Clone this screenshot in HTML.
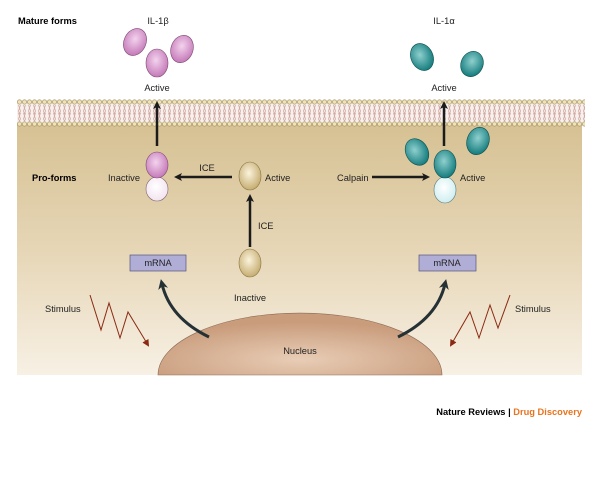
<!DOCTYPE html>
<html><head><meta charset="utf-8"><style>
html,body{margin:0;padding:0;background:#fff}
svg{display:block}
text{font-family:"Liberation Sans",sans-serif;font-size:9.3px;fill:#222}
.b{font-weight:bold;fill:#000}
</style></head><body>
<svg width="600" height="503" viewBox="0 0 600 503" xmlns="http://www.w3.org/2000/svg">
<defs>
<linearGradient id="cell" x1="0" y1="0" x2="0" y2="1">
<stop offset="0" stop-color="#d6c193"/><stop offset="0.5" stop-color="#e6d6b6"/><stop offset="1" stop-color="#f7f0e4"/>
</linearGradient>
<radialGradient id="nuc" cx="0.5" cy="0.75" r="0.6">
<stop offset="0" stop-color="#e8cdb6"/><stop offset="1" stop-color="#c99c7c"/>
</radialGradient>
<radialGradient id="pink" cx="0.45" cy="0.4" r="0.6">
<stop offset="0" stop-color="#f3d3ee"/><stop offset="1" stop-color="#c57ab8"/>
</radialGradient>
<radialGradient id="teal" cx="0.45" cy="0.4" r="0.6">
<stop offset="0" stop-color="#8fd0cf"/><stop offset="1" stop-color="#157c7d"/>
</radialGradient>
<radialGradient id="tan" cx="0.45" cy="0.4" r="0.6">
<stop offset="0" stop-color="#fbf3dc"/><stop offset="1" stop-color="#c6ad72"/>
</radialGradient>
<radialGradient id="wb" cx="0.45" cy="0.4" r="0.6">
<stop offset="0" stop-color="#ffffff"/><stop offset="1" stop-color="#cfeef0"/>
</radialGradient>
<radialGradient id="wp" cx="0.45" cy="0.4" r="0.6">
<stop offset="0" stop-color="#ffffff"/><stop offset="1" stop-color="#f3e3f0"/>
</radialGradient>
<pattern id="heads" x="17" y="0" width="5" height="200" patternUnits="userSpaceOnUse">
<rect x="0" y="104" width="5" height="18" fill="#f8f0ec"/>
<path d="M1.5 105 l1 3 l-1 3 l1 3 M3.5 105 l-1 3 l1 3 l-1 3 M1.5 113 l1 3 l-1 3 l1 2 M3.5 113 l-1 3 l1 3 l-1 2" fill="none" stroke="#d2aaa4" stroke-width="0.8"/>
<circle cx="2.5" cy="102" r="2.2" fill="#efe2b8" stroke="#9c8a5a" stroke-width="0.6"/>
<circle cx="2.5" cy="124" r="2.2" fill="#efe2b8" stroke="#9c8a5a" stroke-width="0.6"/>
</pattern>
<marker id="ah" markerWidth="8" markerHeight="8" refX="5" refY="4" orient="auto" markerUnits="userSpaceOnUse">
<path d="M0 0 L8 4 L0 8 L2 4 Z" fill="#1b1b1b"/>
</marker>
<marker id="ahc" markerWidth="10" markerHeight="10" refX="5" refY="5" orient="auto" markerUnits="userSpaceOnUse">
<path d="M0 0 L10 5 L0 10 L3 5 Z" fill="#253135"/>
</marker>
<marker id="ahr" markerWidth="7" markerHeight="7" refX="5" refY="3.5" orient="auto" markerUnits="userSpaceOnUse">
<path d="M0 0 L7 3.5 L0 7 Z" fill="#8a2a12"/>
</marker>
</defs>

<rect x="17" y="124" width="565" height="251" fill="url(#cell)"/>
<rect x="17" y="98" width="568" height="30" fill="url(#heads)"/>

<path d="M158 375 A142 62 0 0 1 442 375 Z" fill="url(#nuc)" stroke="#8a6a55" stroke-width="0.6"/>
<text x="300" y="354" text-anchor="middle">Nucleus</text>

<text x="18" y="24" class="b">Mature forms</text>
<text x="32" y="181" class="b">Pro-forms</text>

<text x="158" y="24" text-anchor="middle">IL-1β</text>
<ellipse cx="135" cy="42" rx="11" ry="14" transform="rotate(25 135 42)" fill="url(#pink)" stroke="#7d4a73" stroke-width="0.6"/>
<ellipse cx="157" cy="63" rx="11" ry="14" fill="url(#pink)" stroke="#7d4a73" stroke-width="0.6"/>
<ellipse cx="182" cy="49" rx="11" ry="14" transform="rotate(20 182 49)" fill="url(#pink)" stroke="#7d4a73" stroke-width="0.6"/>
<text x="157" y="91" text-anchor="middle">Active</text>
<line x1="157" y1="146" x2="157" y2="104" stroke="#1b1b1b" stroke-width="2.5" marker-end="url(#ah)"/>
<ellipse cx="157" cy="189" rx="11" ry="12" fill="url(#wp)" stroke="#7d6a70" stroke-width="0.6"/>
<ellipse cx="157" cy="165" rx="11" ry="13" fill="url(#pink)" stroke="#7d4a73" stroke-width="0.6"/>
<text x="140" y="181" text-anchor="end">Inactive</text>

<line x1="232" y1="177" x2="177" y2="177" stroke="#1b1b1b" stroke-width="2.5" marker-end="url(#ah)"/>
<text x="207" y="171" text-anchor="middle">ICE</text>
<ellipse cx="250" cy="176" rx="11" ry="14" fill="url(#tan)" stroke="#8a7440" stroke-width="0.6"/>
<text x="265" y="181">Active</text>
<line x1="250" y1="247" x2="250" y2="197" stroke="#1b1b1b" stroke-width="2.5" marker-end="url(#ah)"/>
<text x="258" y="229">ICE</text>
<ellipse cx="250" cy="263" rx="11" ry="14" fill="url(#tan)" stroke="#8a7440" stroke-width="0.6"/>
<text x="250" y="301" text-anchor="middle">Inactive</text>

<rect x="130" y="255" width="56" height="16" fill="#b0aed6" stroke="#55557a" stroke-width="0.7"/>
<text x="158" y="266" text-anchor="middle">mRNA</text>
<rect x="419" y="255" width="57" height="16" fill="#b0aed6" stroke="#55557a" stroke-width="0.7"/>
<text x="447" y="266" text-anchor="middle">mRNA</text>

<path d="M209 337 Q170 318 162 284" fill="none" stroke="#253135" stroke-width="3" marker-end="url(#ahc)"/>
<path d="M398 337 Q437 318 445 284" fill="none" stroke="#253135" stroke-width="3" marker-end="url(#ahc)"/>

<text x="45" y="312">Stimulus</text>
<polyline points="90,295 101,330 109,303 120,338 128,312 148,345" fill="none" stroke="#8a2a12" stroke-width="1" marker-end="url(#ahr)"/>
<text x="515" y="312">Stimulus</text>
<polyline points="510,295 498,328 490,305 479,338 470,312 451,345" fill="none" stroke="#8a2a12" stroke-width="1" marker-end="url(#ahr)"/>

<text x="444" y="24" text-anchor="middle">IL-1α</text>
<ellipse cx="422" cy="57" rx="11" ry="14" transform="rotate(-25 422 57)" fill="url(#teal)" stroke="#0d4f50" stroke-width="0.6"/>
<ellipse cx="472" cy="64" rx="11" ry="13" transform="rotate(25 472 64)" fill="url(#teal)" stroke="#0d4f50" stroke-width="0.6"/>
<text x="444" y="91" text-anchor="middle">Active</text>
<line x1="444" y1="146" x2="444" y2="104" stroke="#1b1b1b" stroke-width="2.5" marker-end="url(#ah)"/>
<ellipse cx="417" cy="152" rx="11" ry="14" transform="rotate(-30 417 152)" fill="url(#teal)" stroke="#0d4f50" stroke-width="0.6"/>
<ellipse cx="478" cy="141" rx="11" ry="14" transform="rotate(20 478 141)" fill="url(#teal)" stroke="#0d4f50" stroke-width="0.6"/>
<ellipse cx="445" cy="190" rx="11" ry="13" fill="url(#wb)" stroke="#5a7a7a" stroke-width="0.6"/>
<ellipse cx="445" cy="164" rx="11" ry="14" fill="url(#teal)" stroke="#0d4f50" stroke-width="0.6"/>
<text x="460" y="181">Active</text>
<text x="337" y="181">Calpain</text>
<line x1="372" y1="177" x2="427" y2="177" stroke="#1b1b1b" stroke-width="2.5" marker-end="url(#ah)"/>

<text x="582" y="415" text-anchor="end" class="b">Nature Reviews <tspan fill="#000">|</tspan> <tspan fill="#e8731e">Drug Discovery</tspan></text>
</svg>
</body></html>
